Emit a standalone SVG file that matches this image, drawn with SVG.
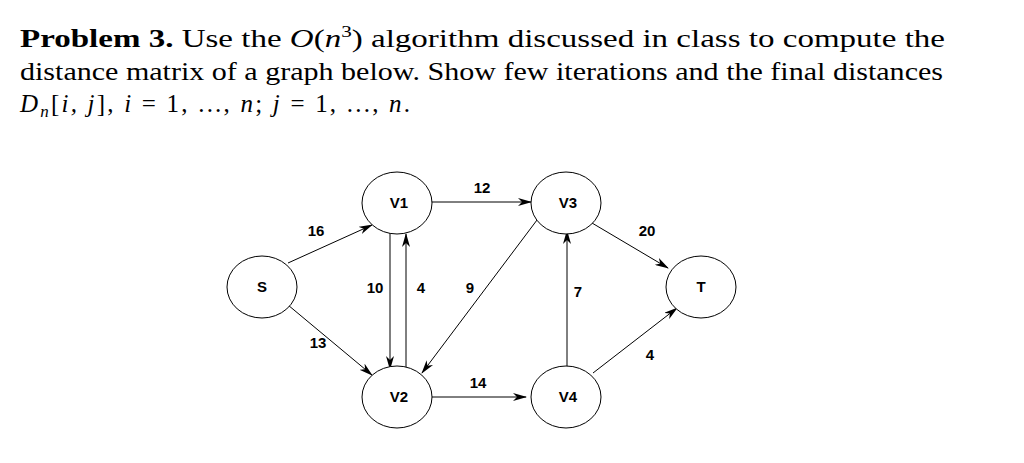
<svg xmlns="http://www.w3.org/2000/svg" width="1024" height="463" viewBox="0 0 1024 463">
<style>
.t{font-family:"Liberation Serif",serif;font-size:25px;fill:#000}
.n{fill:#fff;stroke:#000;stroke-width:1}
.l{font-family:"Liberation Sans",Arial,sans-serif;font-weight:bold;font-size:15px;text-anchor:middle;fill:#000}
.e{stroke:#000;stroke-width:1;fill:none;marker-end:url(#a)}
</style>
<defs><marker id="a" markerWidth="14" markerHeight="8" refX="13" refY="4" orient="auto" markerUnits="userSpaceOnUse"><path d="M0,0 L14,4 L0,8 L4,4 Z" fill="#000"/></marker></defs>
<rect width="1024" height="463" fill="#fff"/>
<text class="t" x="20" y="47" textLength="925" lengthAdjust="spacingAndGlyphs"><tspan font-weight="bold">Problem 3.</tspan> Use the <tspan font-style="italic">O</tspan>(<tspan font-style="italic">n</tspan><tspan font-size="16" dy="-10">3</tspan><tspan dy="10">) algorithm discussed in class to compute the</tspan></text>
<text class="t" x="20" y="80" textLength="923" lengthAdjust="spacingAndGlyphs">distance matrix of a graph below. Show few iterations and the final distances</text>
<text class="t" x="20" y="112" textLength="390" lengthAdjust="spacing"><tspan font-style="italic">D</tspan><tspan font-style="italic" font-size="17" dy="5">n</tspan><tspan dy="-5">[</tspan><tspan font-style="italic">i, j</tspan>], <tspan font-style="italic">i</tspan> = 1, ..., <tspan font-style="italic">n</tspan>; <tspan font-style="italic">j</tspan> = 1, ..., <tspan font-style="italic">n</tspan>.</text>
<g id="edges">
<line class="e" x1="288" y1="263" x2="372" y2="225"/>
<line class="e" x1="288" y1="305" x2="372" y2="375"/>
<line class="e" x1="390" y1="231" x2="390" y2="369"/>
<line class="e" x1="406" y1="367" x2="406" y2="234"/>
<line class="e" x1="431" y1="202" x2="531" y2="202"/>
<line class="e" x1="537" y1="220" x2="422" y2="373"/>
<line class="e" x1="592" y1="223" x2="668" y2="268"/>
<line class="e" x1="567" y1="367" x2="567" y2="231"/>
<line class="e" x1="593" y1="373" x2="677" y2="308"/>
<line class="e" x1="432" y1="397" x2="526" y2="397"/>
</g>
<g id="labels">
<text class="l" x="482" y="193">12</text>
<text class="l" x="316" y="236">16</text>
<text class="l" x="647" y="236">20</text>
<text class="l" x="375" y="293">10</text>
<text class="l" x="421" y="293">4</text>
<text class="l" x="470" y="293">9</text>
<text class="l" x="578" y="297">7</text>
<text class="l" x="318" y="348">13</text>
<text class="l" x="650" y="360">4</text>
<text class="l" x="478" y="388">14</text>
</g>
<g id="S"><ellipse class="n" cx="262" cy="287" rx="35" ry="31"/><text class="l" x="262" y="292">S</text></g>
<g id="V1"><ellipse class="n" cx="397" cy="203" rx="35" ry="31"/><text class="l" x="399" y="208">V1</text></g>
<g id="V3"><ellipse class="n" cx="566" cy="203" rx="35" ry="31"/><text class="l" x="568" y="208">V3</text></g>
<g id="T"><ellipse class="n" cx="701" cy="287" rx="35" ry="31"/><text class="l" x="701" y="292">T</text></g>
<g id="V2"><ellipse class="n" cx="397" cy="397" rx="35" ry="31"/><text class="l" x="399" y="402">V2</text></g>
<g id="V4"><ellipse class="n" cx="566" cy="397" rx="35" ry="31"/><text class="l" x="568" y="402">V4</text></g>
</svg>
